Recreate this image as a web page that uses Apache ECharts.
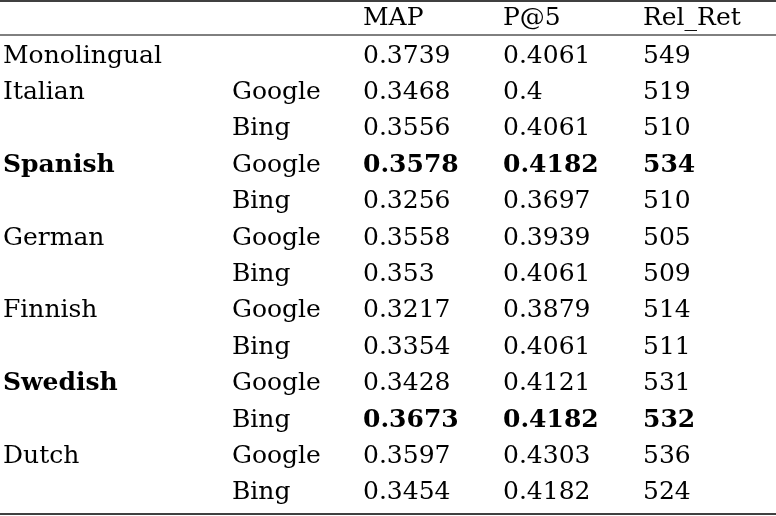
<!DOCTYPE html>
<html>
<head>
<meta charset="utf-8">
<script src="https://cdn.jsdelivr.net/npm/echarts@6/dist/echarts.min.js"></script>
<style>html,body{margin:0;background:#fff}#main{width:776px;height:516px}</style>
</head>
<body>
<div id="main"></div>
<script>
const headers = ['', '', 'MAP', 'P@5', 'Rel_Ret'];
const languages = ['Monolingual', 'Italian', '', 'Spanish', '', 'German', '', 'Finnish', '', 'Swedish', '', 'Dutch', ''];
const engines = ['', 'Google', 'Bing', 'Google', 'Bing', 'Google', 'Bing', 'Google', 'Bing', 'Google', 'Bing', 'Google', 'Bing'];
const mapValues = ['0.3739', '0.3468', '0.3556', '0.3578', '0.3256', '0.3558', '0.353', '0.3217', '0.3354', '0.3428', '0.3673', '0.3597', '0.3454'];
const p5Values = ['0.4061', '0.4', '0.4061', '0.4182', '0.3697', '0.3939', '0.4061', '0.3879', '0.4061', '0.4121', '0.4182', '0.4303', '0.4182'];
const relRet = ['549', '519', '510', '534', '510', '505', '509', '514', '511', '531', '532', '536', '524'];
const boldLanguages = ['Spanish', 'Swedish'];
const boldRows = [3, 10];

const colX = [3, 232, 363, 503, 643];
const headerY = 18;
const firstRowY = 56;
const rowStep = 36.4;
const font = '"DejaVu Serif", "Liberation Serif", serif';
const fontSize = 25;

const chart = echarts.init(document.getElementById('main'));
const elements = [];
const txt = (x, y, s, bold) => elements.push({
  type: 'text', x: x, y: y,
  style: { text: s, fill: '#000', font: (bold ? 'bold ' : '') + fontSize + 'px ' + font, textVerticalAlign: 'middle' }
});
headers.forEach((h, i) => h && txt(colX[i], headerY, h, false));
languages.forEach((lang, r) => {
  const y = firstRowY + r * rowStep;
  const b = boldRows.includes(r);
  if (lang) txt(colX[0], y, lang, boldLanguages.includes(lang));
  if (engines[r]) txt(colX[1], y, engines[r], false);
  txt(colX[2], y, mapValues[r], b);
  txt(colX[3], y, p5Values[r], b);
  txt(colX[4], y, relRet[r], b);
});
const hline = (y, w) => elements.push({ type: 'line', shape: { x1: 0, y1: y, x2: 776, y2: y }, style: { stroke: '#000', lineWidth: w } });
hline(1, 1.5);
hline(35, 1);
hline(514, 1.5);

chart.setOption({ animation: false, graphic: { elements: elements } });
</script>
</body>
</html>
